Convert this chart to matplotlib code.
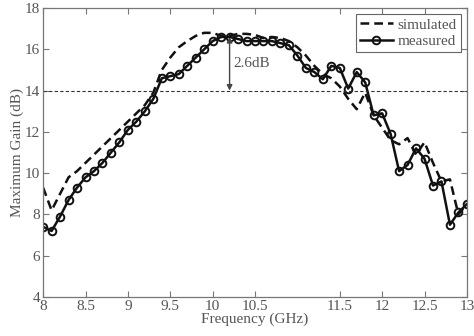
import numpy as np
import matplotlib.pyplot as plt

plt.rcParams['font.family'] = ['Liberation Serif', 'DejaVu Serif']

freq = np.round(np.arange(8.0, 13.01, 0.1), 1)

simulated = [9.3, 8.2, 9.0, 9.8, 10.1, 10.5, 10.9, 11.3, 11.7, 12.1,
             12.5, 12.9, 13.3, 13.9, 15.0, 15.6, 16.1, 16.4, 16.65, 16.8,
             16.8, 16.65, 16.65, 16.75, 16.75, 16.7, 16.55, 16.6, 16.55, 16.4,
             16.1, 15.7, 15.2, 14.8, 14.6, 14.2, 13.6, 13.1, 13.9, 12.8,
             12.2, 11.6, 11.4, 11.7, 10.9, 11.5, 10.5, 9.6, 9.7, 8.0,
             8.5]

measured = [7.4, 7.2, 7.9, 8.7, 9.3, 9.8, 10.1, 10.5, 11.0, 11.5,
            12.1, 12.5, 13.0, 13.6, 14.6, 14.7, 14.8, 15.2, 15.6, 16.0,
            16.4, 16.6, 16.6, 16.5, 16.4, 16.4, 16.4, 16.4, 16.3, 16.2,
            15.7, 15.1, 14.9, 14.55, 15.2, 15.1, 14.1, 14.9, 14.4, 12.8,
            12.9, 11.9, 10.1, 10.4, 11.2, 10.7, 9.4, 9.6, 7.5, 8.1,
            8.5]

xticks = [8, 8.5, 9, 9.5, 10, 10.5, 11.5, 12, 12.5, 13]
xticklabels = ['8', '8.5', '9', '9.5', '10', '10.5', '11.5', '12', '12.5', '13']
yticks = [4, 6, 8, 10, 12, 14, 16, 18]

threshold = 14.0
arrow_f = 10.2
arrow_top = 16.6

text_c = '#555555'
line_c = '#111111'

fig = plt.figure(figsize=(4.74, 3.36), dpi=100)
ax = fig.add_axes([0.091, 0.116, 0.894, 0.860])

ax.plot(freq, simulated, '--', color=line_c, lw=1.8, dashes=(3.5, 2),
        label='simulated')
ax.plot(freq, measured, '-', color=line_c, lw=1.8, marker='o', ms=5.5,
        mfc='none', mew=1.4, label='measured')

ax.axhline(threshold, color='#333333', lw=0.8, ls=(0, (3, 2)))
ax.annotate('', xy=(arrow_f, arrow_top), xytext=(arrow_f, threshold),
            arrowprops=dict(arrowstyle='<|-|>', color='#444444', lw=1.0,
                            mutation_scale=8, shrinkA=0, shrinkB=0))
ax.text(arrow_f + 0.04, 15.3, '2.6dB', color=text_c, fontsize=11,
        va='center', ha='left')

ax.set_xlim(8, 13)
ax.set_ylim(4, 18)
ax.set_xticks(xticks)
ax.set_xticklabels(xticklabels)
ax.set_yticks(yticks)
ax.tick_params(direction='in', top=True, right=True, length=4, width=0.8,
               colors='#777777', labelcolor=text_c, labelsize=11, pad=2)
for s in ax.spines.values():
    s.set_color('#777777')
    s.set_linewidth(0.9)

ax.set_xlabel('Frequency (GHz)', color=text_c, fontsize=11, labelpad=0)
ax.set_ylabel('Maximum Gain (dB)', color=text_c, fontsize=11, labelpad=1)

leg = ax.legend(loc='upper right', fontsize=11, handlelength=2.2,
                handletextpad=0.3, borderpad=0.25, labelspacing=0.2,
                fancybox=False, framealpha=1, borderaxespad=0.4)
leg.get_frame().set_edgecolor('#666666')
leg.get_frame().set_linewidth(0.8)
for t in leg.get_texts():
    t.set_color(text_c)

fig.savefig('out.png', dpi=100)
